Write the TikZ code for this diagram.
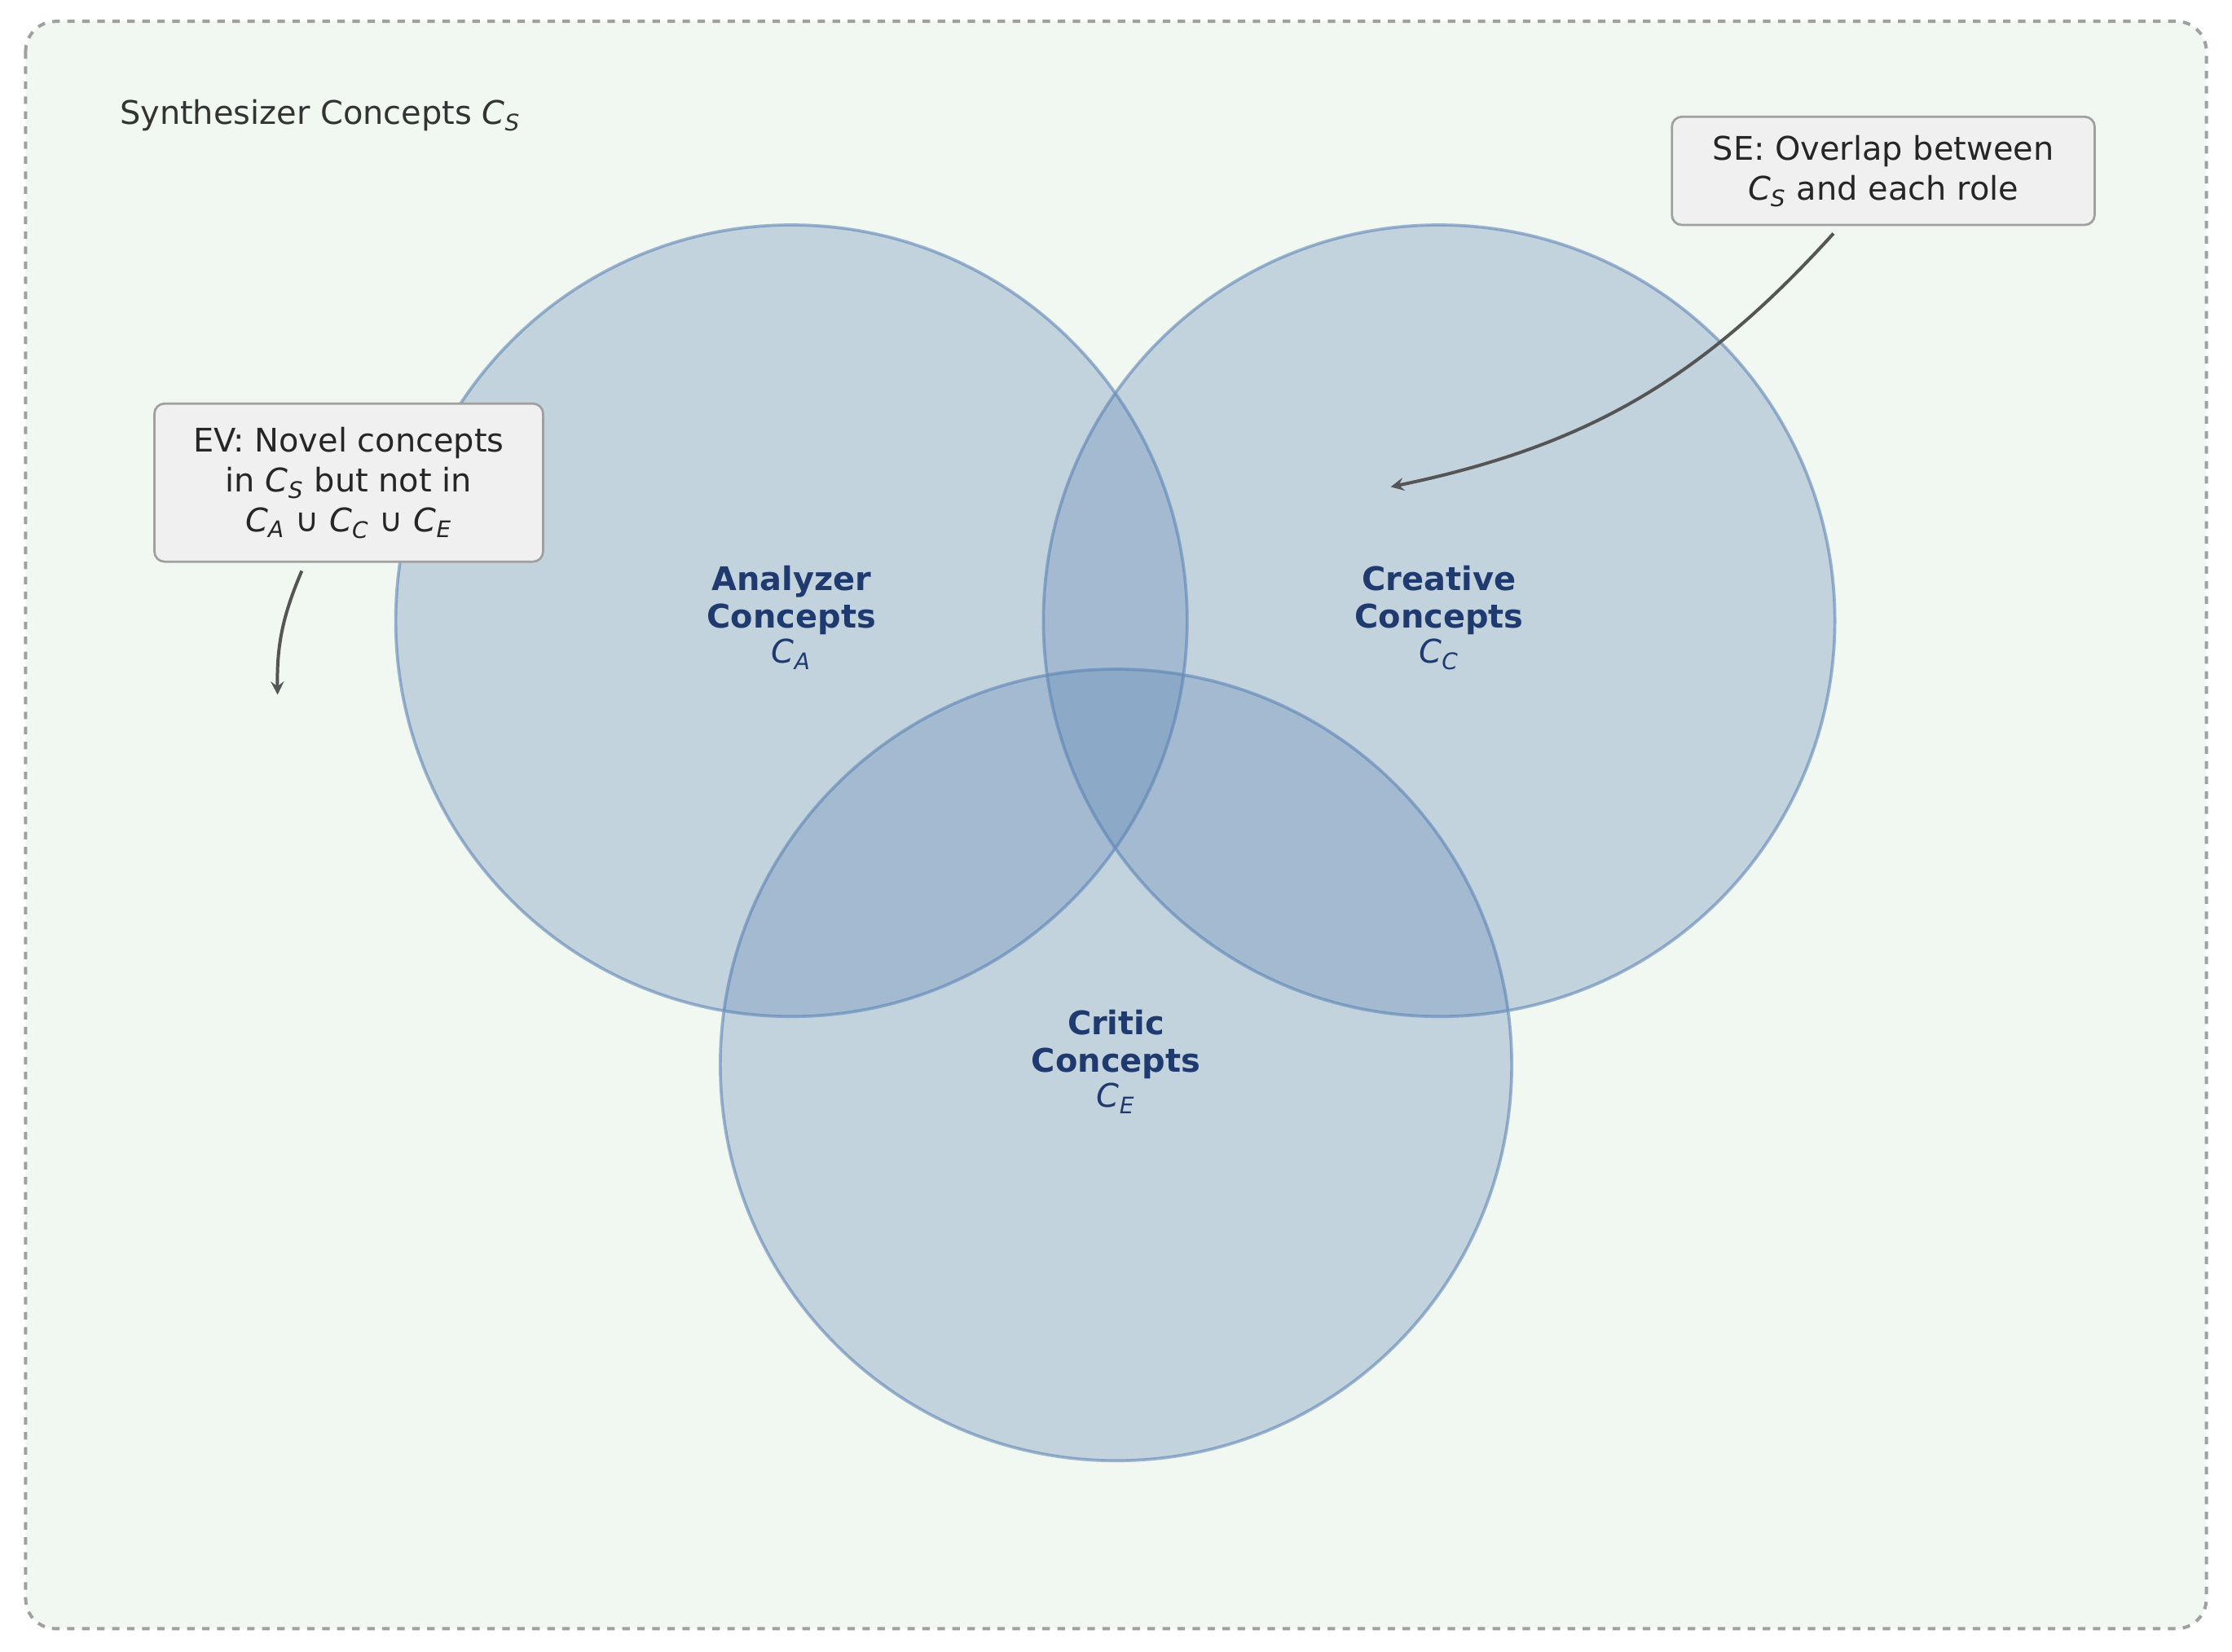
\documentclass[tikz,border=0pt]{standalone}
\usepackage{fontspec}
\setmainfont{DejaVu Sans}
\usetikzlibrary{calc}
\definecolor{bgGreen}{HTML}{F1F7F1}
\definecolor{frameGray}{HTML}{A0A0A0}
\definecolor{setBlue}{HTML}{5A82B4}
\definecolor{labelBlue}{HTML}{1F3A6E}
\definecolor{noteFill}{HTML}{F0F0F0}
\definecolor{arrowGray}{HTML}{555555}
\newcommand\setsym[1]{\textit{C}\textsubscript{\textit{#1}}}

\begin{document}
\begin{tikzpicture}[x=0.02cm,y=-0.02cm,font=\fontsize{13}{16}\selectfont]
\tikzstyle{venn}=[draw=setBlue,draw opacity=0.35,line width=1.2pt,fill=setBlue,fill opacity=0.3]
\tikzstyle{setlabel}=[align=center,text=labelBlue,font=\fontsize{13}{15}\selectfont\bfseries]
\tikzstyle{note}=[draw=frameGray,fill=noteFill,rounded corners=4,align=center,line width=0.9pt,text=black!85,inner sep=4pt]
\tikzstyle{pointer}=[->,>=stealth,draw=arrowGray,line width=1.3pt]
\useasboundingbox (0,0) rectangle (1568,1160);
\draw[dashed,draw=frameGray,fill=bgGreen,line width=1.3pt,rounded corners=12] (18,15) rectangle (1550,1144);
\node[anchor=west,text=black!80] (title) at (78,81) {Synthesizer Concepts \setsym{S}};
% sets
\fill[venn] (556,436) circle (278);
\fill[venn] (1011,436) circle (278);
\fill[venn] (784,748) circle (278);
\draw[venn,fill=none] (556,436) circle (278) (1011,436) circle (278) (784,748) circle (278);
\node[setlabel] (anaLabel) at (556,434) {Analyzer\\Concepts\\[-1pt]\normalfont\setsym{A}};
\node[setlabel] (creLabel) at (1011,434) {Creative\\Concepts\\[-1pt]\normalfont\setsym{C}};
\node[setlabel] (criLabel) at (784,746) {Critic\\Concepts\\[-1pt]\normalfont\setsym{E}};
% notes
\node[note,minimum width=273*0.02cm,minimum height=111*0.02cm] (ev) at (245,339) {EV: Novel concepts\\in \setsym{S} but not in\\\setsym{A} ∪ \setsym{C} ∪ \setsym{E}};
\node[note,minimum width=297*0.02cm,minimum height=76*0.02cm] (se) at (1323,120) {SE: Overlap between\\\setsym{S} and each role};
\coordinate (evStart) at (212,401);
\coordinate (evEnd) at (195,488);
\coordinate (seStart) at (1288,164);
\coordinate (seEnd) at (977,342);
\draw[pointer] (evStart) to[bend right=12] (evEnd);
\draw[pointer] (seStart) to[bend left=18] (seEnd);
\end{tikzpicture}
\end{document}
